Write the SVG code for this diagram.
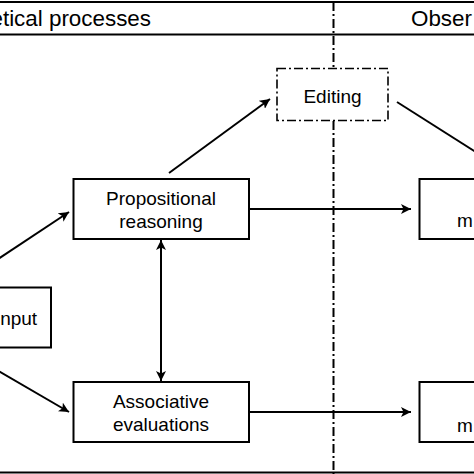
<svg xmlns="http://www.w3.org/2000/svg" width="474" height="474" viewBox="0 0 474 474">
<defs>
<marker id="ah" viewBox="0 0 10 10" refX="10" refY="5" markerWidth="10" markerHeight="10" markerUnits="userSpaceOnUse" orient="auto-start-reverse">
<path d="M0,0 L10,5 L0,10 L2.5,5 Z" fill="#000"/>
</marker>
<style>
.box{fill:#fff;stroke:#000;stroke-width:2}
.dbox{fill:#fff;stroke:#000;stroke-width:1.6;stroke-dasharray:9 3 2 3}
.t{font-family:"Liberation Sans",Arial,sans-serif;font-size:19px;fill:#000;text-anchor:middle}
.h{font-family:"Liberation Sans",Arial,sans-serif;font-size:22.4px;fill:#000}
.ln{stroke:#000;stroke-width:2;fill:none}
.sep{stroke:#000;stroke-width:2;fill:none;stroke-dasharray:9 3 2 3}
</style>
</defs>
<rect width="474" height="474" fill="#fff"/>
<g id="frame">
<line class="ln" x1="0" y1="2" x2="474" y2="2" stroke-width="2.5"/>
<line class="ln" x1="0" y1="34.5" x2="474" y2="34.5" stroke-width="2.5"/>
<line class="ln" x1="0" y1="472.5" x2="474" y2="472.5" stroke-width="2.5"/>
<line class="sep" x1="333.5" y1="2" x2="333.5" y2="68"/>
<line class="sep" x1="333.5" y1="121" x2="333.5" y2="474"/>
<text class="h" x="151" y="26" text-anchor="end">etical processes</text>
<text class="h" x="411" y="26">Obser</text>
</g>
<g id="connectors">
<line class="ln" x1="-5" y1="261" x2="69" y2="212" marker-end="url(#ah)"/>
<line class="ln" x1="-5" y1="369" x2="69" y2="412" marker-end="url(#ah)"/>
<line class="ln" x1="169" y1="173" x2="270" y2="99" marker-end="url(#ah)"/>
<line class="ln" x1="397" y1="102" x2="490" y2="161"/>
<line class="ln" x1="249" y1="209" x2="411" y2="209" marker-end="url(#ah)"/>
<line class="ln" x1="249" y1="412" x2="411" y2="412" marker-end="url(#ah)"/>
<line class="ln" x1="161" y1="240" x2="161" y2="381" marker-start="url(#ah)" marker-end="url(#ah)"/>
</g>
<g id="editing">
<rect class="dbox" x="277" y="68.5" width="111" height="52"/>
<text class="t" x="332.5" y="103">Editing</text>
</g>
<g id="propositional">
<rect class="box" x="73.5" y="179" width="175.5" height="60"/>
<text class="t" x="161" y="205">Propositional</text>
<text class="t" x="161" y="228">reasoning</text>
</g>
<g id="associative">
<rect class="box" x="73.5" y="382" width="175.5" height="60"/>
<text class="t" x="161" y="408">Associative</text>
<text class="t" x="161" y="431">evaluations</text>
</g>
<g id="input">
<rect class="box" x="-20" y="287.5" width="71" height="60"/>
<text class="t" x="16" y="325">Input</text>
</g>
<g id="explicit">
<rect class="box" x="419.5" y="179" width="80" height="60"/>
<text class="t" x="465" y="227" text-anchor="start">m</text>
</g>
<g id="implicit">
<rect class="box" x="419.5" y="382" width="80" height="60"/>
<text class="t" x="465" y="431.5" text-anchor="start">m</text>
</g>
</svg>
